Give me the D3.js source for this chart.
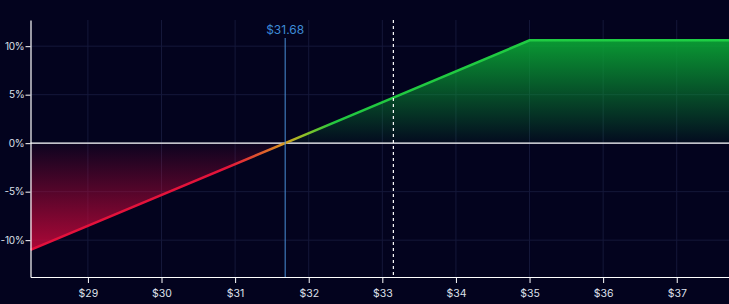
<!DOCTYPE html>
<html><head><meta charset="utf-8">
<script src="https://cdn.jsdelivr.net/npm/d3@7"></script>
<style>
html,body{margin:0;padding:0;background:#03031e;}
svg{display:block;font-family:Inter,"Noto Sans",sans-serif;}
</style></head><body>
<svg id="c" width="729" height="304"></svg>
<script>
const prices = [28.22, 31.68, 35, 37.71];
const returns = [-11.0, 0, 10.6, 10.6];
const xTicks = [29, 30, 31, 32, 33, 34, 35, 36, 37];
const yTicks = [-10, -5, 0, 5, 10];
const breakeven = 31.68;
const currentPrice = 33.15;

const W = 729, H = 304;
const m = {l: 30.5, r: 0, t: 20, b: 27};
const svg = d3.select('#c');
svg.append('rect').attr('width', W).attr('height', H).attr('fill', '#03031e');

const x = d3.scaleLinear().domain([28.22, 37.71]).range([m.l, W - m.r]);
const y = d3.scaleLinear().domain([-13.8, 12.7]).range([H - m.b, m.t]);

const defs = svg.append('defs');
const lg = defs.append('linearGradient').attr('id', 'lineG')
  .attr('gradientUnits', 'userSpaceOnUse')
  .attr('x1', x(28.22)).attr('x2', x(37.71)).attr('y1', 0).attr('y2', 0);
const span = 37.71 - 28.22;
const st = v => ((v - 28.22) / span);
[[28.22, '#e3103c'], [30.9, '#e3143a'], [31.45, '#de6a2a'], [31.68, '#d8a020'], [31.95, '#8cc228'], [32.35, '#22c840'], [37.71, '#1ecf45']]
  .forEach(([v, c]) => lg.append('stop').attr('offset', st(v)).attr('stop-color', c));

const rg = defs.append('linearGradient').attr('id', 'redG')
  .attr('gradientUnits', 'userSpaceOnUse')
  .attr('x1', 0).attr('x2', 0).attr('y1', y(0)).attr('y2', y(-11));
rg.append('stop').attr('offset', 0).attr('stop-color', '#c0083a').attr('stop-opacity', 0.05);
rg.append('stop').attr('offset', 1).attr('stop-color', '#c0083a').attr('stop-opacity', 0.9);

const gg = defs.append('linearGradient').attr('id', 'greenG')
  .attr('gradientUnits', 'userSpaceOnUse')
  .attr('x1', 0).attr('x2', 0).attr('y1', y(0)).attr('y2', y(10.6));
gg.append('stop').attr('offset', 0).attr('stop-color', '#0aa034').attr('stop-opacity', 0.05);
gg.append('stop').attr('offset', 1).attr('stop-color', '#0aa034').attr('stop-opacity', 0.95);

// grid
const grid = svg.append('g');
xTicks.forEach(t => grid.append('line').attr('x1', x(t)).attr('x2', x(t)).attr('y1', m.t).attr('y2', H - m.b)
  .attr('stroke', '#15183a').attr('stroke-width', 1));
yTicks.forEach(t => grid.append('line').attr('x1', m.l).attr('x2', W).attr('y1', y(t)).attr('y2', y(t))
  .attr('stroke', '#15183a').attr('stroke-width', 1));

const pts = prices.map((p, i) => [p, returns[i]]);
const negPts = pts.filter(d => d[1] <= 0);
const posPts = pts.filter(d => d[1] >= 0);
const area = d3.area().x(d => x(d[0])).y0(y(0)).y1(d => y(d[1]));
svg.append('path').attr('d', area(negPts)).attr('fill', 'url(#redG)');
svg.append('path').attr('d', area(posPts)).attr('fill', 'url(#greenG)');

// zero line
svg.append('line').attr('x1', m.l).attr('x2', W).attr('y1', y(0)).attr('y2', y(0))
  .attr('stroke', '#ffffff').attr('stroke-width', 1.2);

// payoff line
svg.append('path').attr('d', d3.line().x(d => x(d[0])).y(d => y(d[1]))(pts))
  .attr('fill', 'none').attr('stroke', 'url(#lineG)').attr('stroke-width', 2.5);

// breakeven line
svg.append('line').attr('x1', x(breakeven)).attr('x2', x(breakeven)).attr('y1', 38).attr('y2', H - m.b)
  .attr('stroke', '#4a8fd8').attr('stroke-width', 1);
svg.append('text').attr('x', x(breakeven)).attr('y', 34).attr('text-anchor', 'middle')
  .attr('fill', '#3d8bd6').attr('font-size', 12).text('$' + breakeven.toFixed(2));

// current price dotted
svg.append('line').attr('x1', x(currentPrice)).attr('x2', x(currentPrice)).attr('y1', m.t).attr('y2', H - m.b)
  .attr('stroke', '#ffffff').attr('stroke-width', 1.2).attr('stroke-dasharray', '3,3');

// axes
const xa = svg.append('g').attr('transform', `translate(0,${H - m.b})`)
  .call(d3.axisBottom(x).tickValues(xTicks).tickFormat(d => '$' + d).tickSize(6).tickSizeOuter(0));
const ya = svg.append('g').attr('transform', `translate(${m.l},0)`)
  .call(d3.axisLeft(y).tickValues(yTicks).tickFormat(d => d + '%').tickSize(5).tickSizeOuter(0));
[xa, ya].forEach(a => {
  a.select('.domain').attr('stroke', '#ffffff').attr('stroke-width', 1.2);
  a.selectAll('.tick line').attr('stroke', '#ffffff');
  a.selectAll('.tick text').attr('fill', '#dde0ea').attr('font-size', 10.5).attr('font-family', 'Inter,"Noto Sans",sans-serif');
});
xa.selectAll('.tick text').attr('dy', '1.05em');
ya.selectAll('.tick text').attr('x', -6).attr('font-size', 10).attr('letter-spacing', '-0.2px');
</script></body></html>
